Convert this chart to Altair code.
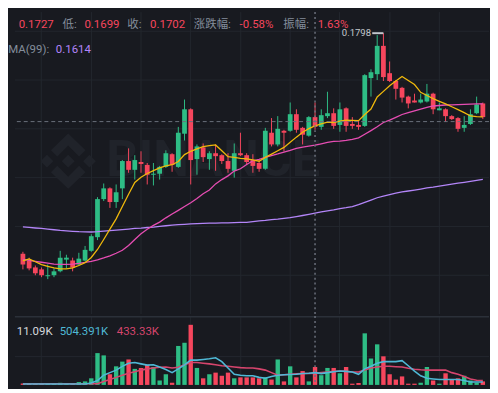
import altair as alt
import pandas as pd

# ---------------- data ----------------
idx = list(range(75))

opens = [0.1572, 0.1565, 0.1558, 0.1556, 0.1549, 0.1550, 0.1554, 0.1566, 0.1565, 0.1561,
         0.1565, 0.1575, 0.1589, 0.1628, 0.1639, 0.1625, 0.1639, 0.1667, 0.1658, 0.1666,
         0.1663, 0.1653, 0.1654, 0.1661, 0.1674, 0.1661, 0.1695, 0.1720, 0.1669, 0.1681,
         0.1669, 0.1675, 0.1673, 0.1667, 0.1657, 0.1675, 0.1673, 0.1668, 0.1665, 0.1659,
         0.1696, 0.1684, 0.1698, 0.1698, 0.1715, 0.1701, 0.1693, 0.1712, 0.1702, 0.1713,
         0.1716, 0.1704, 0.1721, 0.1705, 0.1704, 0.1703, 0.1752, 0.1756, 0.1785, 0.1757,
         0.1749, 0.1742, 0.1733, 0.1729, 0.1727, 0.1728, 0.1736, 0.1719, 0.1720, 0.1713,
         0.1711, 0.1701, 0.1705, 0.1716, 0.1726]
highs = [0.1574, 0.1568, 0.1560, 0.1558, 0.1561, 0.1557, 0.1575, 0.1571, 0.1568, 0.1573,
         0.1580, 0.1592, 0.1630, 0.1644, 0.1640, 0.1643, 0.1668, 0.1680, 0.1673, 0.1677,
         0.1665, 0.1665, 0.1662, 0.1678, 0.1675, 0.1702, 0.1730, 0.1721, 0.1684, 0.1685,
         0.1677, 0.1684, 0.1674, 0.1675, 0.1685, 0.1696, 0.1675, 0.1674, 0.1668, 0.1701,
         0.1711, 0.1713, 0.1699, 0.1727, 0.1720, 0.1702, 0.1713, 0.1727, 0.1720, 0.1738,
         0.1721, 0.1727, 0.1722, 0.1712, 0.1709, 0.1756, 0.1761, 0.1796, 0.1798, 0.1769,
         0.1750, 0.1743, 0.1734, 0.1736, 0.1736, 0.1746, 0.1737, 0.1727, 0.1721, 0.1714,
         0.1712, 0.1713, 0.1720, 0.1733, 0.1727]
lows = [0.1556, 0.1555, 0.1550, 0.1548, 0.1546, 0.1548, 0.1553, 0.1557, 0.1554, 0.1560,
        0.1564, 0.1574, 0.1586, 0.1626, 0.1619, 0.1619, 0.1628, 0.1655, 0.1648, 0.1655,
        0.1643, 0.1642, 0.1648, 0.1660, 0.1656, 0.1660, 0.1688, 0.1643, 0.1653, 0.1666,
        0.1658, 0.1657, 0.1664, 0.1655, 0.1650, 0.1672, 0.1663, 0.1655, 0.1656, 0.1658,
        0.1682, 0.1682, 0.1677, 0.1697, 0.1696, 0.1684, 0.1692, 0.1699, 0.1699, 0.1711,
        0.1700, 0.1697, 0.1697, 0.1700, 0.1699, 0.1702, 0.1733, 0.1750, 0.1749, 0.1748,
        0.1730, 0.1727, 0.1721, 0.1727, 0.1726, 0.1727, 0.1715, 0.1719, 0.1707, 0.1709,
        0.1697, 0.1697, 0.1704, 0.1715, 0.1710]
closes = [0.1561, 0.1557, 0.1552, 0.1550, 0.1550, 0.1554, 0.1568, 0.1568, 0.1558, 0.1567,
          0.1576, 0.1590, 0.1628, 0.1639, 0.1625, 0.1635, 0.1667, 0.1658, 0.1668, 0.1664,
          0.1653, 0.1654, 0.1661, 0.1675, 0.1663, 0.1696, 0.1720, 0.1668, 0.1682, 0.1671,
          0.1675, 0.1672, 0.1667, 0.1659, 0.1675, 0.1673, 0.1666, 0.1662, 0.1659, 0.1698,
          0.1684, 0.1700, 0.1696, 0.1715, 0.1699, 0.1694, 0.1712, 0.1702, 0.1714, 0.1716,
          0.1703, 0.1720, 0.1703, 0.1703, 0.1702, 0.1755, 0.1758, 0.1785, 0.1753, 0.1749,
          0.1741, 0.1732, 0.1726, 0.1727, 0.1730, 0.1736, 0.1720, 0.1721, 0.1713, 0.1710,
          0.1700, 0.1704, 0.1715, 0.1725, 0.1712]

ma7 = [0.15648, 0.15667, 0.15638, 0.15609, 0.15590, 0.15575, 0.15566, 0.15566, 0.15575, 0.15600,
       0.15629, 0.15682, 0.15764, 0.15866, 0.15972, 0.16078, 0.16204, 0.16330, 0.16451, 0.16504,
       0.16542, 0.16571, 0.16600, 0.16620, 0.16632, 0.16665, 0.16736, 0.16770, 0.16794, 0.16818,
       0.16828, 0.16835, 0.16775, 0.16714, 0.16707, 0.16697, 0.16692, 0.16683, 0.16668, 0.16707,
       0.16741, 0.16775, 0.16810, 0.16862, 0.16915, 0.16965, 0.17002, 0.17031, 0.17050, 0.17069,
       0.17065, 0.17079, 0.17089, 0.17087, 0.17084, 0.17147, 0.17203, 0.17326, 0.17384, 0.17442,
       0.17490, 0.17536, 0.17495, 0.17454, 0.17374, 0.17342, 0.17309, 0.17282, 0.17255, 0.17226,
       0.17197, 0.17166, 0.17132, 0.17126, 0.17123]
ma25 = [0.15662, 0.15653, 0.15643, 0.15633, 0.15624, 0.15614, 0.15611, 0.15611, 0.15614, 0.15621,
        0.15631, 0.15643, 0.15658, 0.15677, 0.15698, 0.15725, 0.15756, 0.15805, 0.15866, 0.15924,
        0.15972, 0.16011, 0.16044, 0.16088, 0.16127, 0.16165, 0.16204, 0.16243, 0.16286, 0.16335,
        0.16373, 0.16436, 0.16480, 0.16518, 0.16567, 0.16591, 0.16634, 0.16673, 0.16687, 0.16707,
        0.16726, 0.16743, 0.16762, 0.16779, 0.16799, 0.16813, 0.16823, 0.16833, 0.16847, 0.16862,
        0.16871, 0.16874, 0.16881, 0.16891, 0.16907, 0.16944, 0.16982, 0.17021, 0.17065, 0.17089,
        0.17118, 0.17147, 0.17166, 0.17185, 0.17203, 0.17219, 0.17234, 0.17239, 0.17244, 0.17245,
        0.17248, 0.17250, 0.17253, 0.17255, 0.17255]
ma99 = [0.15995, 0.15990, 0.15984, 0.15979, 0.15972, 0.15966, 0.15959, 0.15954, 0.15950, 0.15946,
        0.15944, 0.15943, 0.15946, 0.15951, 0.15956, 0.15962, 0.15967, 0.15973, 0.15979, 0.15983,
        0.15989, 0.15994, 0.16001, 0.16007, 0.16013, 0.16018, 0.16022, 0.16027, 0.16029, 0.16031,
        0.16033, 0.16034, 0.16036, 0.16037, 0.16039, 0.16041, 0.16042, 0.16049, 0.16057, 0.16062,
        0.16069, 0.16075, 0.16083, 0.16091, 0.16101, 0.16112, 0.16124, 0.16136, 0.16148, 0.16160,
        0.16170, 0.16182, 0.16192, 0.16204, 0.16223, 0.16246, 0.16270, 0.16294, 0.16310, 0.16327,
        0.16342, 0.16353, 0.16363, 0.16373, 0.16383, 0.16394, 0.16403, 0.16414, 0.16423, 0.16433,
        0.16443, 0.16452, 0.16462, 0.16472, 0.16481]

# volume in thousands
volume = [40, 35, 30, 30, 25, 30, 60, 40, 45, 81,
          100, 188, 907, 842, 304, 530, 664, 726, 457, 484,
          573, 511, 126, 304, 62, 1111, 1202, 1714, 484, 188,
          304, 350, 261, 350, 188, 215, 215, 215, 188, 215,
          153, 726, 100, 530, 215, 395, 100, 511, 277, 484,
          484, 331, 511, 35, 54, 1471, 753, 1157, 815, 304,
          153, 242, 35, 35, 62, 511, 126, 35, 331, 153,
          188, 261, 126, 62, 100]
vol_ma5 = [27, 27, 27, 27, 27, 27, 27, 27, 27, 27,
           27, 54, 126, 277, 350, 422, 530, 619, 638, 600,
           565, 573, 511, 438, 350, 457, 573, 707, 707, 726,
           745, 772, 664, 484, 304, 277, 261, 261, 215, 188,
           242, 277, 288, 296, 304, 323, 331, 350, 323, 350,
           377, 395, 385, 369, 304, 457, 530, 619, 664, 664,
           664, 691, 546, 395, 261, 188, 169, 153, 153, 153,
           153, 126, 81, 81, 81]
vol_ma10 = [35, 35, 35, 35, 35, 35, 35, 35, 35, 35,
            35, 35, 35, 100, 153, 215, 277, 331, 377, 422,
            457, 484, 503, 511, 484, 503, 573, 638, 638, 619,
            600, 573, 546, 530, 511, 492, 484, 484, 457, 422,
            350, 277, 288, 304, 315, 323, 323, 331, 350, 369,
            385, 395, 385, 369, 369, 422, 484, 511, 530, 530,
            519, 511, 476, 449, 430, 422, 422, 422, 422, 350,
            304, 242, 169, 134, 126]

price_grid = [0.155, 0.160, 0.165, 0.170, 0.175, 0.180]
time_grid = [2.95, 11.05, 19.0, 26.95, 35.05, 43.0, 50.95, 59.05, 67.0]
vol_grid = [807]
hover_i = 47
hover_price = 0.17074

# ---------------- layout / style ----------------
W, H_MAIN, H_VOL = 482, 307, 70
SX, SY = 482 / 498, 377 / 393
BG = "#181a20"
GRID = "#23272e"
SEP = "#2b3039"
GREEN = "#2ebd85"
RED = "#f6465d"
C_MA7 = "#f0b90b"
C_MA25 = "#e64db3"
C_MA99 = "#b385f8"
C_V5 = "#4fb9d6"
C_V10 = "#d6456d"
GRAY = "#848e9c"
CROSS = "#6b717c"
WM = "#20232a"
FONT = "Roboto, Noto Sans CJK SC, sans-serif"
FS = 12 * SX

df = pd.DataFrame({"i": idx, "open": opens, "high": highs, "low": lows, "close": closes,
                   "ma7": ma7, "ma25": ma25, "ma99": ma99,
                   "vol": volume, "v5": vol_ma5, "v10": vol_ma10})
df["dir"] = ["up" if c >= o else "down" for o, c in zip(opens, closes)]
df["blo"] = [min(o, c) for o, c in zip(opens, closes)]
df["bhi"] = [max(o, c) for o, c in zip(opens, closes)]

xs = alt.Scale(domain=[-0.5, 74.2], nice=False, zero=False)
ys = alt.Scale(domain=[0.15102, 0.18196], nice=False, zero=False)
vs = alt.Scale(domain=[0, 1964], nice=False, zero=False)
col = alt.Color("dir:N", scale=alt.Scale(domain=["up", "down"], range=[GREEN, RED]), legend=None)
X = alt.X("i:Q", scale=xs, axis=None)

base = alt.Chart(df)

def txt(s, x, y, color, size=FS, weight="normal", align="left"):
    return alt.Chart(pd.DataFrame({"k": [0]})).mark_text(
        align=align, baseline="middle", font=FONT, fontSize=size, fontWeight=weight, color=color
    ).encode(x=alt.value(x * SX), y=alt.value(y * SY), text=alt.value(s))

# grids
pgrid = alt.Chart(pd.DataFrame({"p": price_grid})).mark_rule(color=GRID, strokeWidth=1).encode(
    y=alt.Y("p:Q", scale=ys, axis=None))
tgrid = alt.Chart(pd.DataFrame({"t": time_grid})).mark_rule(color=GRID, strokeWidth=1).encode(
    x=alt.X("t:Q", scale=xs, axis=None))

# watermark
logo_path = ("M-0.395,-0.169L0,-0.564L0.395,-0.169L0.625,-0.398L0,-1L-0.625,-0.398Z"
             "M-1,0L-0.77,-0.23L-0.541,0L-0.77,0.23Z"
             "M0.541,0L0.77,-0.23L1,0L0.77,0.23Z"
             "M0.233,0L0,-0.233L-0.233,0L0,0.233Z"
             "M-0.395,0.169L0,0.564L0.395,0.169L0.625,0.398L0,1L-0.625,0.398Z")
logo = alt.Chart(pd.DataFrame({"k": [0]})).mark_point(
    shape=logo_path, filled=True, color=WM, opacity=1, size=(58 * SX) ** 2, strokeWidth=0
).encode(x=alt.value(56 * SX), y=alt.value(158 * SY))
wm_text = txt("BINANCE", 96, 158, WM, size=53 * SX, weight="bold")

wick = base.mark_rule(strokeWidth=1, clip=True).encode(
    x=X, y=alt.Y("low:Q", scale=ys, axis=None), y2="high:Q", color=col)
body = base.mark_bar(size=5 * SX, clip=True).encode(
    x=X, y=alt.Y("blo:Q", scale=ys, axis=None), y2="bhi:Q", color=col)

l99 = base.mark_line(color=C_MA99, strokeWidth=1.3, clip=True).encode(x=X, y=alt.Y("ma99:Q", scale=ys, axis=None))
l25 = base.mark_line(color=C_MA25, strokeWidth=1.3, clip=True).encode(x=X, y=alt.Y("ma25:Q", scale=ys, axis=None))
l7 = base.mark_line(color=C_MA7, strokeWidth=1.3, clip=True).encode(x=X, y=alt.Y("ma7:Q", scale=ys, axis=None))

ch_h = alt.Chart(pd.DataFrame({"p": [hover_price]})).mark_rule(
    color=CROSS, strokeWidth=1, strokeDash=[4, 3]).encode(y=alt.Y("p:Q", scale=ys, axis=None))
ch_v = alt.Chart(pd.DataFrame({"t": [hover_i]})).mark_rule(
    color=CROSS, strokeWidth=1.5, strokeDash=[2, 3]).encode(x=alt.X("t:Q", scale=xs, axis=None))

peak_i = highs.index(max(highs))
peak = pd.DataFrame({"i": [peak_i], "i2": [peak_i - 1.8], "p": [max(highs)],
                     "txt": [f"{max(highs):.4f}"]})
peak_rule = alt.Chart(peak).mark_rule(color="#c4c8ce", strokeWidth=2).encode(
    x=X, x2="i2:Q", y=alt.Y("p:Q", scale=ys, axis=None))
peak_txt = alt.Chart(peak).mark_text(align="right", baseline="middle", dx=-13 * SX, dy=0,
                                     font=FONT, fontSize=10 * SX, color="#c4c8ce").encode(
    x=X, y=alt.Y("p:Q", scale=ys, axis=None), text="txt:N")

legend_main = [
    txt("0.1727", 4, 14, RED), txt("低:", 50, 14, GRAY), txt("0.1699", 73, 14, RED),
    txt("收:", 118, 14, GRAY), txt("0.1702", 142, 14, RED), txt("涨跌幅:", 188, 14, GRAY),
    txt("-0.58%", 236, 14, RED), txt("振幅:", 282, 14, GRAY), txt("1.63%", 318, 13.5, RED),
    txt("MA(99):", -7, 40, GRAY), txt("0.1614", 43, 40, C_MA99),
]

main = alt.layer(pgrid, tgrid, logo, wm_text, wick, body, l99, l25, l7, ch_h, ch_v,
                 peak_rule, peak_txt, *legend_main).properties(width=W, height=H_MAIN)

# ---------------- volume pane ----------------
VY = alt.Y("vol:Q", scale=vs, axis=None)
vgrid = alt.Chart(pd.DataFrame({"v": vol_grid})).mark_rule(color=GRID, strokeWidth=1).encode(
    y=alt.Y("v:Q", scale=vs, axis=None))
sep = alt.Chart(pd.DataFrame({"k": [0]})).mark_rule(color=SEP, strokeWidth=1.5).encode(
    x=alt.value(0), x2=alt.value(W), y=alt.value(0.75))
vbars = base.mark_bar(size=4.6 * SX, clip=True).encode(x=X, y=VY, color=col)
lv10 = base.mark_line(color=C_V10, strokeWidth=1.6, clip=True).encode(x=X, y=alt.Y("v10:Q", scale=vs, axis=None))
lv5 = base.mark_line(color=C_V5, strokeWidth=1.6, clip=True).encode(x=X, y=alt.Y("v5:Q", scale=vs, axis=None))

def vtxt(s, x, color):
    return alt.Chart(pd.DataFrame({"k": [0]})).mark_text(
        align="left", baseline="middle", font=FONT, fontSize=FS, color=color
    ).encode(x=alt.value(x * SX), y=alt.value((337 - 320) * SY), text=alt.value(s))

vol = alt.layer(tgrid, vgrid, sep, vbars, lv10, lv5, ch_v,
                vtxt("11.09K", 2, "#d5d8dc"), vtxt("504.391K", 47, C_V5), vtxt("433.33K", 107, C_V10)
                ).properties(width=W, height=H_VOL)

chart = alt.vconcat(main, vol, spacing=0).properties(
    background=BG, padding=0
).configure_view(stroke=None)

chart.save("out.html", embed_options={"renderer": "svg", "actions": False})
